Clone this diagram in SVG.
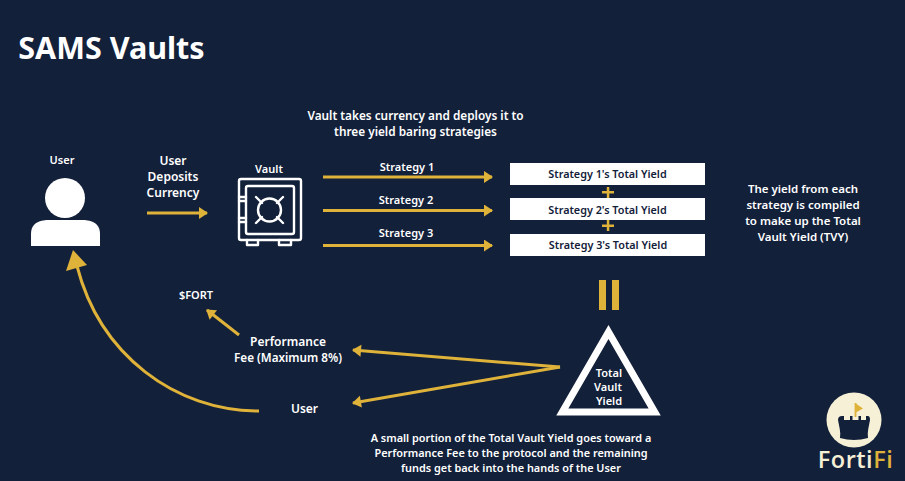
<svg xmlns="http://www.w3.org/2000/svg" width="905" height="481" viewBox="0 0 905 481">
<style>
text{font-family:"Noto Sans","Open Sans",sans-serif;font-weight:600;fill:#fff;text-anchor:middle}
.s{font-size:11px}.m{font-size:12px}.n{font-size:10.9px}.r{font-size:11.5px}.d{fill:#13203a;font-size:10.8px}
.c{fill:none;stroke:#dfb23a;stroke-width:3}
.v{fill:none;stroke:#fff;stroke-width:2.4;stroke-linejoin:round;stroke-linecap:round}
.g{fill:#dfb23a}
</style>
<defs>
<marker id="a" markerUnits="userSpaceOnUse" markerWidth="14" markerHeight="14" refX="10" refY="6" orient="auto"><path d="M2 0L11 6L2 12Z" fill="#dfb23a"/></marker>
</defs>
<rect width="905" height="481" fill="#13203a"/>
<text id="title" x="111.500" y="59" style="font-size:30.500px;font-weight:700">SAMS Vaults</text>
<text x="415.500" y="120" style="font-size:11.800px">Vault takes currency and deploys it to</text>
<text x="415.500" y="136" style="font-size:11.800px">three yield baring strategies</text>
<g id="connectors">
<path class="c" d="M147 213H207" marker-end="url(#a)"/>
<path class="c" d="M323 177H492" marker-end="url(#a)"/>
<path class="c" d="M323 210.500H492" marker-end="url(#a)"/>
<path class="c" d="M323 245.500H492" marker-end="url(#a)"/>
<path class="c" d="M560 367L353 350" marker-end="url(#a)"/>
<path class="c" d="M560 367L353 403" marker-end="url(#a)"/>
<path class="c" d="M239 335L207 310" marker-end="url(#a)"/>
<path class="c" d="M259 411C175 411 100 355 77 266"/>
<path class="g" d="M73 250L87 265L66 271Z"/>
</g>
<g id="user">
<text x="62" y="164" class="s">User</text>
<circle cx="65" cy="198" r="20" fill="#fff"/>
<path d="M31 246V234C31 222 41 220 50 220H81C90 220 100 222 100 234V246Z" fill="#fff"/>
</g>
<g id="deposit-label">
<text x="173" y="165" class="m">User</text>
<text x="173" y="181" class="m">Deposits</text>
<text x="173" y="197" class="m">Currency</text>
</g>
<g id="vault">
<text x="269" y="173" class="s">Vault</text>
<rect class="v" x="239" y="179" width="62" height="61" rx="2"/>
<rect class="v" x="246" y="186" width="48" height="48" rx="2"/>
<circle class="v" cx="269.500" cy="210" r="11.500"/>
<path class="v" d="M256 197L262 203M283 197L277 203M256 223L262 217M283 223L277 217M239 197H246M239 201H246M239 218H246M239 222H246M247 240V245H258V240M279 240V245H291V240"/>
</g>
<text x="407" y="171" class="s">Strategy 1</text>
<text x="406" y="204" class="s">Strategy 2</text>
<text x="406" y="237" class="s">Strategy 3</text>
<g id="strategy-1"><rect x="510" y="163" width="195" height="22" fill="#fff"/><text x="607.500" y="178" class="d">Strategy 1's Total Yield</text></g>
<g id="strategy-2"><rect x="510" y="198" width="195" height="22" fill="#fff"/><text x="607.500" y="213.500" class="d">Strategy 2's Total Yield</text></g>
<g id="strategy-3"><rect x="510" y="234" width="195" height="22" fill="#fff"/><text x="608" y="249" class="d">Strategy 3's Total Yield</text></g>
<g id="operators" class="g">
<path d="M602 191h12v2.500h-12zM606.800 187h2.500v11h-2.500z"/>
<path d="M602 224.500h12v2.500h-12zM606.800 220h2.500v11h-2.500z"/>
<rect x="599" y="280" width="7" height="30"/><rect x="612" y="280" width="7" height="30"/>
</g>
<text x="803" y="193" class="r">The yield from each</text>
<text x="803" y="209" class="r">strategy is compiled</text>
<text x="803" y="225" class="r">to make up the Total</text>
<text x="803" y="241" class="r">Vault Yield (TVY)</text>
<g id="total-vault-yield">
<path d="M608.500 332L654.700 412H562.300Z" fill="none" stroke="#fff" stroke-width="7"/>
<text x="609" y="377" class="s">Total</text>
<text x="608" y="391" class="s">Vault</text>
<text x="609" y="405" class="s">Yield</text>
</g>
<text id="fort" x="196" y="299" class="s">$FORT</text>
<g id="performance-fee">
<text x="288" y="346" class="m">Performance</text>
<text x="288" y="362" style="font-size:11.700px">Fee (Maximum 8%)</text>
</g>
<text id="user-2" x="304.500" y="413" class="m">User</text>
<g id="note">
<text x="511" y="441.500" class="n">A small portion of the Total Vault Yield goes toward a</text>
<text x="511" y="456.500" class="n">Performance Fee to the protocol and the remaining</text>
<text x="511" y="471.500" class="n">funds get back into the hands of the User</text>
</g>
<g id="fortifi-logo">
<circle cx="854" cy="420" r="27.500" fill="#f6f0d6"/>
<path d="M840 438C841 432 839 426 838 420Q838 416 842 416H844V420H850V416H852.500V420H858.500V416H861V420H866V416H868Q870 416 870 420C869 426 867 432 868 438Q854 442 840 438Z" fill="#13203a"/>
<path d="M855.500 403V417" stroke="#dfb23a" stroke-width="1.800"/>
<path class="g" d="M855 403L863 408.500L855 413Z"/>
<text x="855.500" y="468" style="font-size:23.500px;font-weight:600;fill:#f6f0d6;font-family:'Open Sans','Noto Sans',sans-serif;letter-spacing:.5px">Forti<tspan style="fill:#dfb23a">Fi</tspan></text>
</g>
</svg>
